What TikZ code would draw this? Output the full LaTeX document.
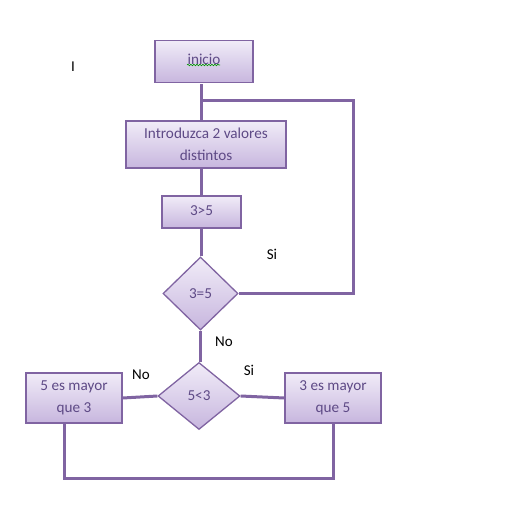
\documentclass[tikz,border=0pt]{standalone}
\usepackage{fontspec}
\setmainfont{Carlito}
\usetikzlibrary{shapes.geometric,decorations.pathmorphing}

\definecolor{lila}{HTML}{8064A2}
\definecolor{lilaclaro}{HTML}{F1ECF8}
\definecolor{lilaoscuro}{HTML}{C7B6DE}
\definecolor{textolila}{HTML}{5E4A86}

\tikzset{
  caja/.style={draw=lila, line width=1.3pt, top color=lilaclaro, bottom color=lilaoscuro,
    text=textolila, align=center, inner sep=0pt, font=\fontsize{15.2}{22}\selectfont},
  rombo/.style={caja, diamond},
  linea/.style={draw=lila, line width=3pt},
  etiqueta/.style={font=\fontsize{15}{17}\selectfont, text=black}
}

\begin{document}
\begin{tikzpicture}[x=1pt,y=-1pt]
	\useasboundingbox (0,0) rectangle (519,511);
	
	\node[etiqueta] (marca) at (73,67) {I};
	
	\node[caja, minimum width=98, minimum height=42] (inicio) at (204,61.5) {\raisebox{5pt}{inicio}};
	\draw[green!60!black, line width=0.6pt, decorate, decoration={snake, amplitude=0.8pt, segment length=3pt}] (187,65) -- (220,65);
	
	\node[caja, minimum width=160, minimum height=47] (intro) at (206,144.5) {Introduzca 2 valores\\distintos};
	\node[caja, minimum width=79, minimum height=32] (mayor) at (201.5,212) {\raisebox{3pt}{3>5}};
	\node[rombo, minimum width=75, minimum height=73] (igual) at (200.5,293.5) {3=5};
	\node[rombo, minimum width=82, minimum height=67] (menor) at (199,396) {5<3};
	
	\node[caja, minimum width=96, minimum height=50] (cinco) at (74,398) {5 es mayor\\que 3};
	\node[caja, minimum width=96, minimum height=50] (tres) at (333,398) {3 es mayor\\que 5};
	
	% conexiones
	\coordinate (lazo) at (201,100);
	\coordinate (esquina) at (353,100);
	\coordinate (fondo) at (200,478);
	\draw[linea] (201,84) -- (201,121);
	\draw[linea] (lazo) -- (esquina) |- (igual.east);
	\draw[linea] (intro.south -| mayor.north) -- (mayor.north);
	\draw[linea] (mayor.south) -- (mayor.south |- igual.north);
	\draw[linea] (igual.south) -- (igual.south |- menor.north);
	\draw[linea] (menor.west) -- (cinco.east);
	\draw[linea] (menor.east) -- (tres.west);
	\draw[linea] ([xshift=-10pt]cinco.south) |- (tres.south |- fondo) -- (tres.south);
	
	\node[etiqueta] (si1) at (272,254) {Si};
	\node[etiqueta] (no1) at (224,342) {No};
	\node[etiqueta] (no2) at (141,375) {No};
	\node[etiqueta] (si2) at (249,370) {Si};
	
\end{tikzpicture}
\end{document}
